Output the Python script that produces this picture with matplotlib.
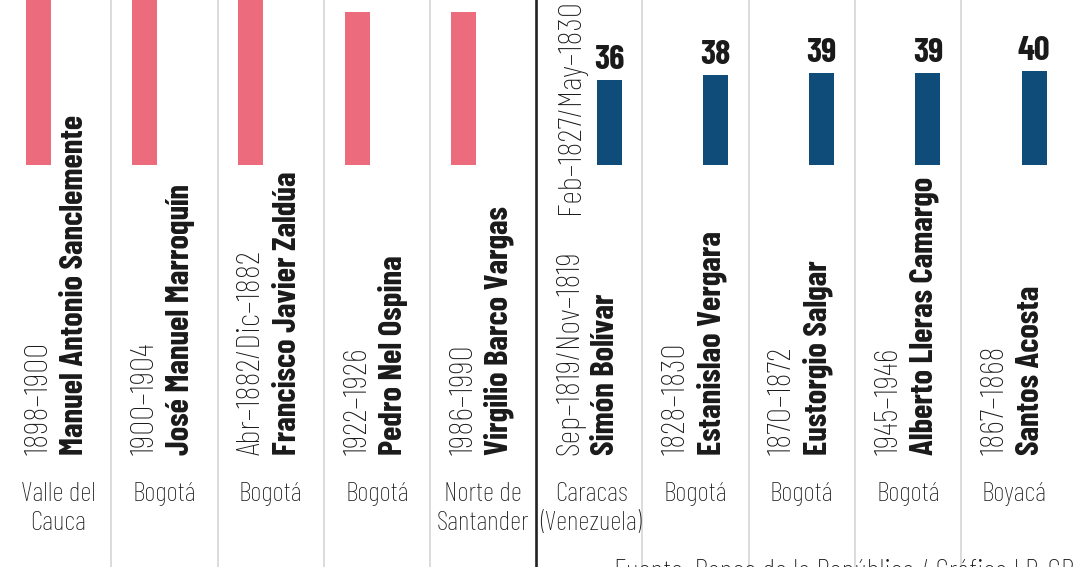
import matplotlib
matplotlib.use("Agg")
import matplotlib.pyplot as plt

# ── data ──────────────────────────────────────────────────────────────────────
names_old = ["Manuel Antonio Sanclemente", "José Manuel Marroquín",
             "Francisco Javier Zaldúa", "Pedro Nel Ospina", "Virgilio Barco Vargas"]
periods_old = ["1898–1900", "1900–1904", "Abr–1882/Dic–1882", "1922–1926", "1986–1990"]
cities_old = ["Valle del\nCauca", "Bogotá", "Bogotá", "Bogotá", "Norte de\nSantander"]
ages_old = [84, 73, 70, 65, 65]

names_young = ["Simón Bolívar", "Estanislao Vergara", "Eustorgio Salgar",
               "Alberto Lleras Camargo", "Santos Acosta"]
periods_young = ["Sep–1819/Nov–1819", "1828–1830", "1870–1872", "1945–1946", "1867–1868"]
extra_period = "Feb–1827/May–1830"   # Bolívar's second term
cities_young = ["Caracas\n(Venezuela)", "Bogotá", "Bogotá", "Bogotá", "Boyacá"]
ages_young = [36, 38, 39, 39, 40]

source = "Fuente: Banco de la República / Gráfico LR-GR"

# ── style ─────────────────────────────────────────────────────────────────────
C_OLD = "#EC6C7E"
C_YOUNG = "#0F4C7A"
C_GRID = "#D2D2D2"
C_SPLIT = "#222222"
C_TEXT = "#1A1A1A"
FONT = ["Barlow Condensed", "DejaVu Sans"]

W, H = 1080, 567
COL0, COLW = 58.2, 106.2      # pixel centre of first column, column width
BASE, SCALE = 165, 2.36       # baseline pixel (from top), pixels per year


def yfrac(py):
    return 1 - py / H


fig = plt.figure(figsize=(W / 100, H / 100), dpi=100)
fig.patch.set_facecolor("white")
ax = fig.add_axes([0, 0, 1, 1])
ax.set_xlim(-COL0 / COLW, (W - COL0) / COLW)
ax.set_ylim(-(H - BASE) / SCALE, BASE / SCALE)
ax.axis("off")

n_old = len(ages_old)
x_old = list(range(n_old))
x_young = [n_old + i for i in range(len(ages_young))]

# column separators
for k in range(len(x_old) + len(x_young) - 1):
    if k == n_old - 1:
        ax.axvline(k + 0.5, color=C_SPLIT, lw=1.9, zorder=1)
    else:
        ax.axvline(k + 0.5, color=C_GRID, lw=1.1, zorder=1)

# bars
bw = 0.235
ax.bar([x - 0.185 for x in x_old], ages_old, width=bw, color=C_OLD, zorder=2)
bars_y = ax.bar([x + 0.19 for x in x_young], ages_young, width=bw, color=C_YOUNG, zorder=2)
ax.bar_label(bars_y, padding=3.5, fontsize=25, fontweight="bold",
             family=FONT, color=C_TEXT)

tr = ax.get_xaxis_transform()
names = names_old + names_young
periods = periods_old + periods_young
cities = cities_old + cities_young

for i, (nm, pr, ct) in enumerate(zip(names, periods, cities)):
    ax.text(i - 0.10, yfrac(455), pr, transform=tr, rotation=90,
            rotation_mode="anchor", ha="left", va="baseline",
            fontsize=24.5, fontweight="light", family=FONT, color=C_TEXT)
    ax.text(i + 0.235, yfrac(455), nm, transform=tr, rotation=90,
            rotation_mode="anchor", ha="left", va="baseline",
            fontsize=23.5, fontweight="bold", family=FONT, color=C_TEXT)
    ax.text(i + (0.02 if i == n_old else 0), yfrac(482), ct, transform=tr,
            ha="center", va="top", fontsize=20, fontweight="light",
            family=FONT, color=C_TEXT, linespacing=1.25)

# Bolívar's second period, same line further up
ax.text(x_young[0] - 0.10, yfrac(214), extra_period, transform=tr, rotation=90,
        rotation_mode="anchor", ha="left", va="baseline",
        fontsize=24.5, fontweight="light", family=FONT, color=C_TEXT)

# source line, cut by the bottom edge as in the original crop
fig.text(614 / W, yfrac(559), source, ha="left", va="top",
         fontsize=22, fontweight="light", family=FONT, color=C_TEXT)

fig.savefig("out.png", dpi=100, facecolor="white")
